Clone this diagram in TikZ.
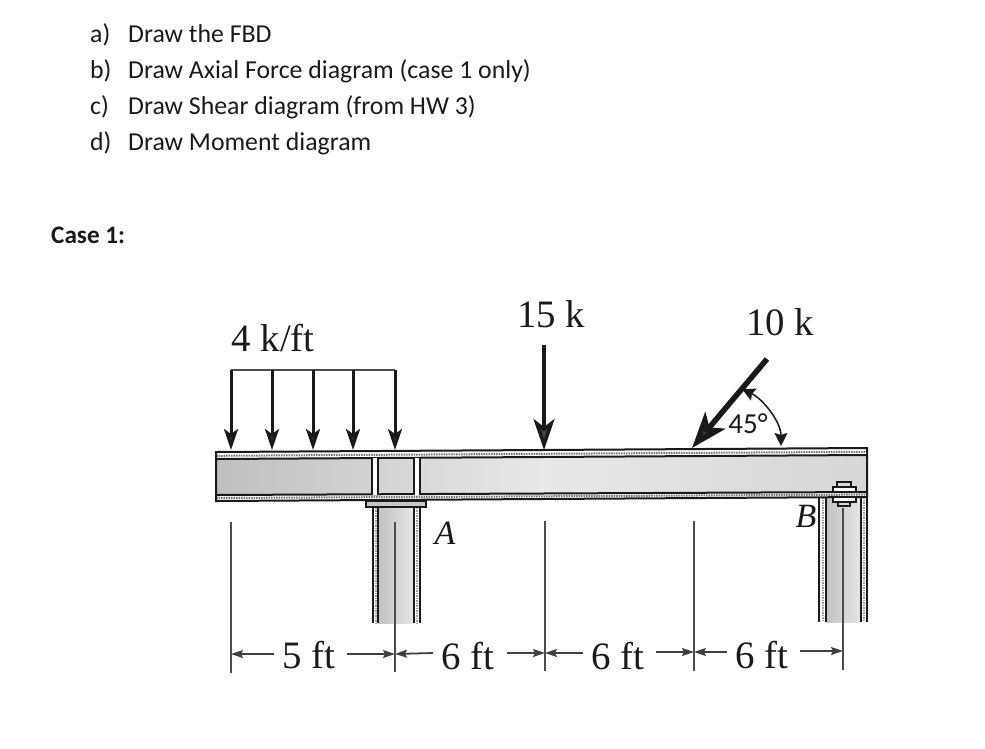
\documentclass[tikz,border=0pt]{standalone}
\usepackage{fontspec}
\setmainfont{Carlito}
\newfontfamily\timesf{Liberation Serif}
\usetikzlibrary{arrows.meta,calc}
\definecolor{ink}{HTML}{1A1A1A}
\newcommand{\lbl}[1]{\makebox[38pt][l]{#1}}
\tikzset{
  x=1pt,y=-1pt,
  listtext/.style={anchor=base west,inner sep=0,font=\fontsize{25.8}{28}\selectfont,text=ink},
  figtext/.style={anchor=base,inner sep=0,font=\timesf\fontsize{38.8}{40}\selectfont,text=ink},
  figital/.style={anchor=base,inner sep=0,font=\timesf\itshape\fontsize{34}{36}\selectfont,text=ink},
  angtext/.style={anchor=base,inner sep=0,font=\fontsize{29}{30}\selectfont,text=ink},
  medium/.style={draw=ink,line width=2pt},
  thinl/.style={draw=black!70,line width=1.4pt},
  stripe/.style={draw=black!55,line width=2pt,dash pattern=on 1.5pt off 1pt},
  steel/.style={left color=black!25,right color=black!16,middle color=black!9},
  loadarrow/.style={draw=ink,line width=3pt,-{Stealth[length=21pt,width=14pt,inset=5pt,fill=black!75]}},
  bigarrow/.style={draw=ink,line width=3.4pt,-{Stealth[length=31pt,width=21pt,inset=8pt,fill=black!75]}},
  skewarrow/.style={draw=ink,line width=5.5pt,-{Stealth[length=36pt,width=26pt,inset=9pt,fill=black!75]}},
  anglearrow/.style={draw=ink,line width=1.5pt,{Stealth[length=13pt,width=13pt,inset=2pt]}-{Stealth[length=13pt,width=13pt,inset=2pt]}},
  dimarrow/.style={draw=black!75,line width=1.8pt,-{Stealth[length=12pt,width=8pt,inset=2pt]}},
  flange/.style={draw=ink,line width=2.4pt},
}
\begin{document}
\begin{tikzpicture}
\useasboundingbox (0,0) rectangle (985,748);
\fill[white] (0,0) rectangle (985,748);
% list
\node[listtext] (la) at (90,42.5) {\lbl{a)}Draw the FBD};
\node[listtext] (lb) at (90,78.5) {\lbl{b)}Draw Axial Force diagram (case 1 only)};
\node[listtext] (lc) at (90,114.5) {\lbl{c)}Draw Shear diagram (from HW 3)};
\node[listtext] (ld) at (90,150.5) {\lbl{d)}Draw Moment diagram};
\node[listtext,font=\bfseries\fontsize{25.2}{28}\selectfont] (case) at (51,243) {Case 1:};
% column A
\fill[left color=black!24,right color=black!10] (378,505) rectangle (414,623);
\foreach \x in {373,378,414,420}{\draw[flange] (\x,505) -- (\x,623);}
\foreach \x in {375.5,417}{\draw[stripe,draw=black!40] (\x,505) -- (\x,623);}
% column B
\fill[left color=black!24,right color=black!10] (826,495) rectangle (861,622);
\foreach \x in {819,826,861,867}{\draw[flange] (\x,495) -- (\x,622);}
\foreach \x in {822.5,864}{\draw[stripe,draw=black!40] (\x,497) -- (\x,622);}
% beam
\path[steel] (216,452) -- (867,448) -- (867,497) -- (216,501) -- cycle;
\fill[white] (216,453) -- (867,449) -- (867,455) -- (216,459) -- cycle;
\fill[white] (216,495) -- (867,492) -- (867,497) -- (216,501) -- cycle;
\draw[stripe] (216,455.8) -- (867,451.8);
\draw[stripe] (216,498) -- (867,494.6);
\draw[medium] (216,459) -- (867,455);
\draw[medium] (216,495) -- (867,492);
\draw[medium] (216,452) -- (867,448) -- (867,497) -- (216,501) -- cycle;
% stiffeners
\foreach \x in {375,417}{
  \fill[white] (\x-3,458) rectangle (\x+3,495);
  \draw[flange] (\x-3,458) -- (\x-3,495) (\x+3,458) -- (\x+3,495);
}
% plate A
\filldraw[fill=black!22,draw=ink,line width=1.4pt] (366,501) rectangle (426,507);
% bolt at B
\filldraw[fill=black!15,draw=ink,line width=1.3pt] (837,482) rectangle (851,487);
\filldraw[fill=white,draw=ink,line width=1.3pt] (833,487) rectangle (856,492);
\filldraw[fill=white,draw=ink,line width=1.3pt] (833,497) rectangle (856,502);
\filldraw[fill=black!15,draw=ink,line width=1.3pt] (838,502) rectangle (850,506);
% load
\coordinate (ltl) at (231,370); \coordinate (ltr) at (395,370);
\draw[draw=black!70,line width=1.5pt] (ltl) -- (ltr);
\foreach \x/\n in {231/1,272/2,313/3,353/4,395/5}{
  \coordinate (t\n) at (\x,370); \coordinate (b\n) at (\x,450);
  \draw[loadarrow] (t\n) -- (b\n);
}
% 15k
\coordinate (f1a) at (544,345); \coordinate (f1b) at (544,450);
\draw[bigarrow] (f1a) -- (f1b);
% 10k
\coordinate (f2a) at (767,359); \coordinate (f2b) at (692,448);
\draw[skewarrow] (f2a) -- (f2b);
% angle
\coordinate (anga) at (742,389); \coordinate (angb) at (781,446);
\draw[anglearrow] (anga) .. controls (763,399) and (781,422) .. (angb);
% dimension lines
\foreach \x/\n/\ya/\yb in {231/a/522/673,395/b/522/672,545/c/521/671,694/d/521/671,843/e/508/670}{
  \coordinate (d\n t) at (\x,\ya); \coordinate (d\n b) at (\x,\yb);
  \draw[thinl] (d\n t) -- (d\n b);
}
\coordinate (p1) at (231,654); \coordinate (p2) at (395,654); \coordinate (p3) at (545,653);
\coordinate (p4) at (694,652); \coordinate (p5) at (843,651);
\coordinate (m1l) at (274,654); \coordinate (m1r) at (347,654);
\coordinate (m2l) at (433,653); \coordinate (m2r) at (507,653);
\coordinate (m3l) at (583,653); \coordinate (m3r) at (656,652);
\coordinate (m4l) at (727,652); \coordinate (m4r) at (800,651);
\draw[dimarrow] (m1l) -- (p1); \draw[dimarrow] (m1r) -- (p2);
\draw[dimarrow] (m2l) -- (p2); \draw[dimarrow] (m2r) -- (p3);
\draw[dimarrow] (m3l) -- (p3); \draw[dimarrow] (m3r) -- (p4);
\draw[dimarrow] (m4l) -- (p4); \draw[dimarrow] (m4r) -- (p5);
% labels
\node[figtext] (q) at (273,351) {4 k/ft};
\node[figtext] (f15) at (551,327) {15 k};
\node[figtext] (f10) at (780,335) {10 k};
\node[angtext] (ang) at (748,433) {45°};
\node[figital] (A) at (445,544) {A};
\node[figital] (B) at (806,527) {B};
\node[figtext] (s1) at (309,668) {5 ft};
\node[figtext] (s2) at (467.5,669) {6 ft};
\node[figtext] (s3) at (618,669) {6 ft};
\node[figtext] (s4) at (762,668) {6 ft};
\end{tikzpicture}
\end{document}
